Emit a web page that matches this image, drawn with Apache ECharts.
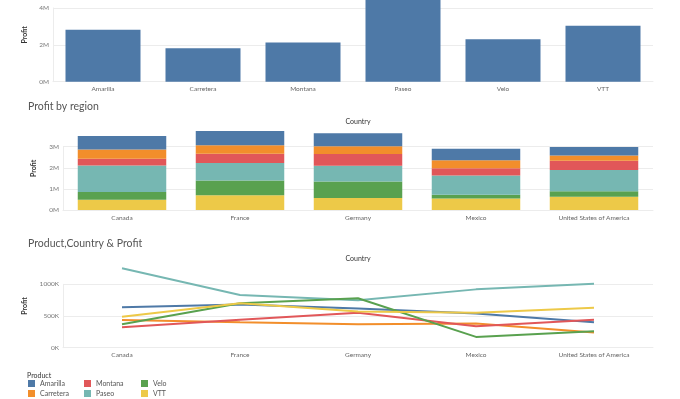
<!DOCTYPE html>
<html>
<head>
    <meta charset="utf-8">
    <title>Profit</title>
    <script src="https://cdn.jsdelivr.net/npm/echarts@6/dist/echarts.min.js"></script>
    <style>
        body { margin: 0; background: #fff; }
        #main { width: 680px; height: 399px; }
    </style>
</head>
<body>
    <div id="main"></div>

    <script type="text/javascript">

        // data
        var products = ['Amarilla', 'Carretera', 'Montana', 'Paseo', 'Velo', 'VTT'];
        var productProfit = [2820000, 1820000, 2130000, 4800000, 2310000, 3030000];
        var countries = ['Canada', 'France', 'Germany', 'Mexico', 'United States of America'];

        // profit by country, in thousands
        var amarilla  = [637, 680, 620, 540, 400];
        var carretera = [437, 400, 370, 380, 240];
        var montana   = [322, 440, 550, 340, 440];
        var paseo     = [1252, 830, 750, 920, 1010];
        var velo      = [369, 700, 780, 170, 260];
        var vtt       = [489, 700, 570, 550, 630];

        var colors = {
            Amarilla: '#4e79a7', Carretera: '#f28e2b', Montana: '#e15759',
            Paseo: '#76b7b2', Velo: '#59a14f', VTT: '#edc948'
        };
        var byProduct = {
            Amarilla: amarilla, Carretera: carretera, Montana: montana,
            Paseo: paseo, Velo: velo, VTT: vtt
        };
        // bottom of stack first
        var stackOrder = ['VTT', 'Velo', 'Paseo', 'Montana', 'Carretera', 'Amarilla'];

        var font = 'Lato';
        var gridColor = '#ececec';

        function toM(v) { return (v / 1000000) + 'M'; }
        function toK(v) { return (v / 1000) + 'K'; }

        function xAxisFor(idx, cats) {
            return {
                type: 'category', gridIndex: idx, data: cats,
                axisTick: { show: false },
                axisLine: { lineStyle: { color: gridColor } },
                axisLabel: { fontFamily: font, fontSize: 6.5, color: '#666', margin: 4 }
            };
        }
        function yAxisFor(idx, max, interval, fmt, gap) {
            return {
                type: 'value', gridIndex: idx, min: 0, max: max, interval: interval,
                name: 'Profit', nameLocation: 'middle', nameGap: gap,
                nameTextStyle: { fontFamily: font, fontSize: 7, fontWeight: 'bold', color: '#333',
                                 padding: [0, 0, 0, 20] },
                axisLine: { show: true, lineStyle: { color: gridColor } },
                axisTick: { show: false },
                splitLine: { lineStyle: { color: gridColor } },
                axisLabel: { fontFamily: font, fontSize: 6.5, color: '#777', margin: 4, formatter: fmt }
            };
        }
        function titleFor(text, left, top, size, align) {
            return {
                text: text, left: left, top: top, padding: 0, textAlign: align || 'left',
                textStyle: { fontFamily: font, fontSize: size, fontWeight: 'normal',
                             color: size > 8 ? '#555' : '#333' }
            };
        }

        var series = [{
            name: 'Profit', type: 'bar', xAxisIndex: 0, yAxisIndex: 0,
            data: productProfit, barWidth: '75%', clip: false,
            itemStyle: { color: '#4e79a7' }
        }];

        stackOrder.forEach(function (p) {
            series.push({
                name: p, type: 'bar', stack: 'region', xAxisIndex: 1, yAxisIndex: 1,
                barWidth: '75%', clip: false,
                data: byProduct[p].map(function (v) { return v * 1000; }),
                itemStyle: { color: colors[p] }
            });
        });

        products.forEach(function (p) {
            series.push({
                name: p, type: 'line', xAxisIndex: 2, yAxisIndex: 2,
                showSymbol: false, clip: false,
                data: byProduct[p].map(function (v) { return v * 1000; }),
                lineStyle: { width: 2, color: colors[p] },
                itemStyle: { color: colors[p] }
            });
        });

        function legendCol(names, left) {
            return {
                data: names, orient: 'vertical', left: left, top: 380, padding: 0,
                icon: 'rect', itemWidth: 7, itemHeight: 7, itemGap: 3,
                textStyle: { fontFamily: font, fontSize: 7, color: '#555' }
            };
        }

        var myChart = echarts.init(document.getElementById('main'));
        myChart.setOption({
            animation: false,
            title: [
                titleFor('Profit by region', 28, 101, 10.5),
                titleFor('Country', 358, 118, 7, 'center'),
                titleFor('Product,Country & Profit', 28, 238.5, 10.5),
                titleFor('Country', 358, 255.5, 7, 'center'),
                titleFor('Product', 27, 372.5, 7)
            ],
            legend: [
                legendCol(['Amarilla', 'Carretera'], 28),
                legendCol(['Montana', 'Paseo'], 84),
                legendCol(['Velo', 'VTT'], 141)
            ],
            grid: [
                { left: 53, right: 27, top: 8, height: 73.7 },
                { left: 63, right: 27, top: 146.7, height: 63.3 },
                { left: 63, right: 27, top: 284.3, height: 63.4 }
            ],
            xAxis: [
                xAxisFor(0, products),
                xAxisFor(1, countries),
                xAxisFor(2, countries)
            ],
            yAxis: [
                yAxisFor(0, 4000000, 2000000, toM, 16),
                yAxisFor(1, 3000000, 1000000, toM, 26),
                yAxisFor(2, 1000000, 500000, toK, 24)
            ],
            series: series
        });
    </script>
</body>
</html>
